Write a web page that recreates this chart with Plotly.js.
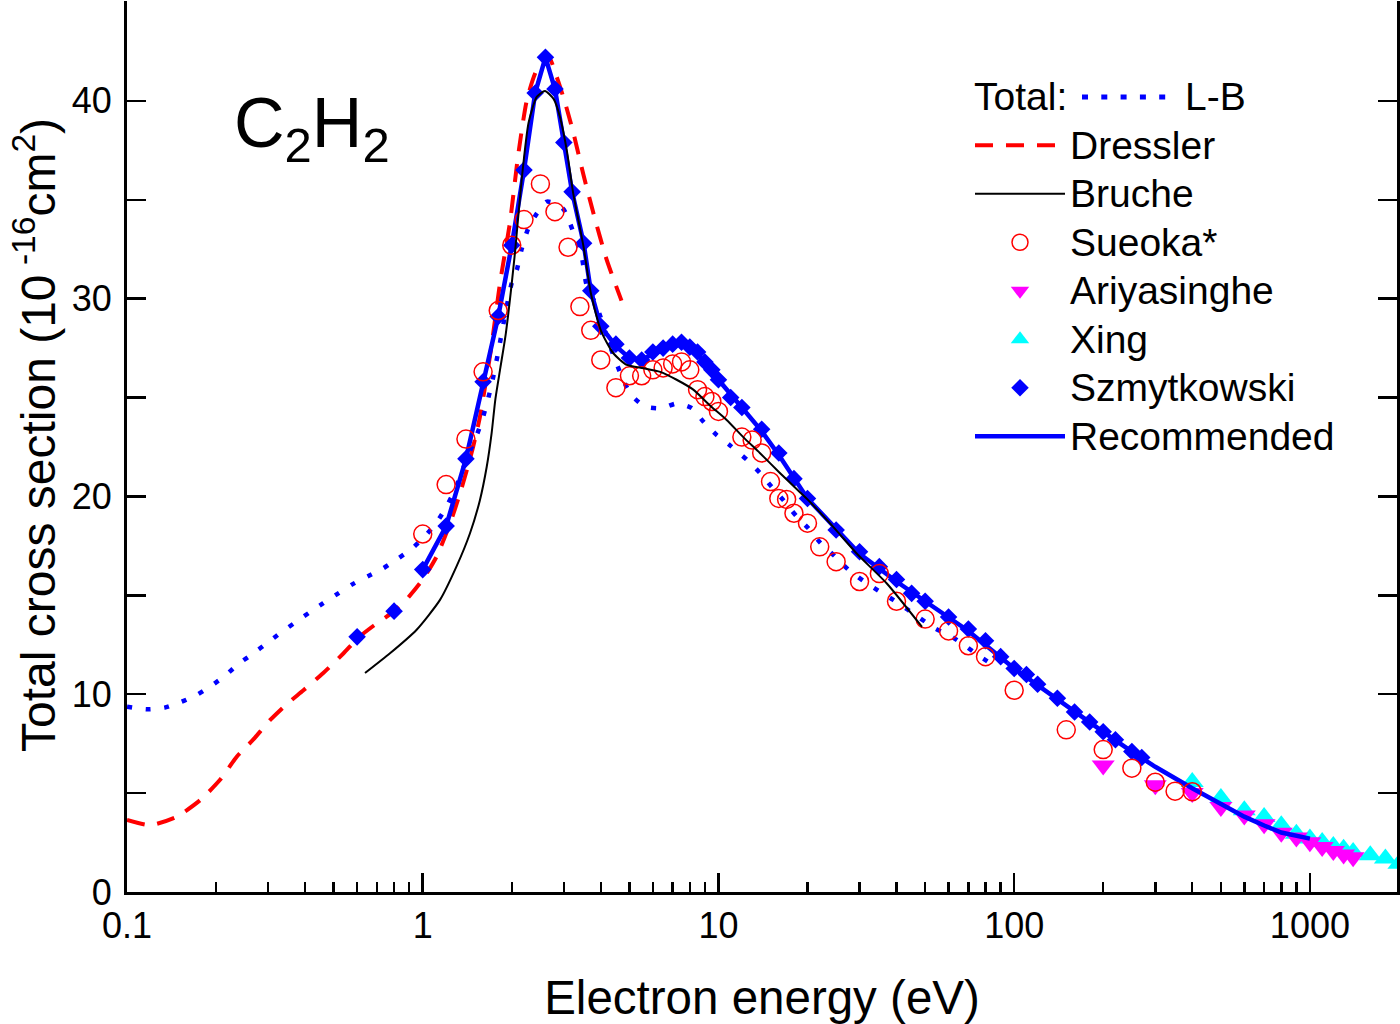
<!DOCTYPE html>
<html>
<head>
<meta charset="utf-8">
<script src="https://cdn.plot.ly/plotly-3.0.1.min.js"></script>
<style>
  html, body { margin: 0; padding: 0; background: #fff; }
  #chart { width: 1400px; height: 1024px; }
</style>
</head>
<body>
<div id="chart"></div>
<script>
// Electron scattering total cross sections for acetylene (C2H2)
// Energies in eV, cross sections in 10^-16 cm^2

// L-B (theory, dotted)
const lbEnergy = [0.1, 0.1165, 0.134, 0.153, 0.172, 0.193, 0.216, 0.238, 0.266, 0.297, 0.331, 0.37, 0.413, 0.461, 0.518, 0.582, 0.655, 0.736, 0.817, 0.917, 1.01, 1.114, 1.199, 1.285, 1.426, 1.514, 1.595, 1.7, 1.8, 1.9, 2.0, 2.08, 2.16, 2.28, 2.43, 2.62, 2.84, 3.0, 3.15, 3.45, 3.58, 3.88, 4.3, 4.76, 5.09, 5.65, 6.43, 7.22, 8.13, 8.9, 9.87, 10.9, 12.5, 13.8, 15.1, 16.6, 18.4, 20.1, 22.1, 24.8, 27.5, 30.9, 34.7, 39, 43.8, 48.1, 54, 61.5, 69, 76.7, 85];
const lbSigma = [9.37, 9.24, 9.32, 9.62, 9.96, 10.43, 10.97, 11.53, 12.04, 12.58, 13.11, 13.62, 14.12, 14.6, 15.1, 15.58, 15.98, 16.37, 16.82, 17.34, 17.94, 18.68, 19.45, 20.33, 22.1, 23.0, 23.95, 25.5, 27.3, 29.2, 30.8, 31.45, 32.5, 33.6, 34.3, 34.9, 34.8, 34.5, 33.8, 32.1, 30.7, 29.6, 27.6, 25.9, 25.1, 24.54, 24.46, 24.7, 24.46, 23.78, 23.1, 22.6, 21.85, 21.2, 20.5, 19.8, 18.98, 18.4, 17.66, 16.96, 16.3, 15.73, 15.24, 14.77, 14.26, 13.84, 13.33, 12.91, 12.4, 11.9, 11.48];

// Dressler (dashed)
const dresslerEnergy = [0.1, 0.12, 0.147, 0.177, 0.206, 0.235, 0.267, 0.305, 0.347, 0.395, 0.46, 0.54, 0.61, 0.68, 0.8, 0.9, 1.0, 1.114, 1.237, 1.337, 1.41, 1.48, 1.56, 1.7, 1.83, 1.97, 2.1, 2.25, 2.43, 2.66, 2.84, 3.03, 3.23, 3.49, 3.78, 4.19, 4.7];
const dresslerSigma = [3.64, 3.38, 3.8, 4.65, 5.66, 6.84, 7.7, 8.7, 9.5, 10.2, 11.06, 12.07, 12.9, 13.45, 14.2, 14.95, 15.8, 16.96, 18.64, 20.16, 21.34, 22.5, 24.0, 27.4, 30.9, 33.8, 37.2, 40.05, 41.57, 42.24, 41.2, 39.9, 38.4, 36.3, 34.3, 31.96, 29.9];

// Bruche (thin solid)
const brucheEnergy = [0.638, 0.775, 0.952, 1.144, 1.3, 1.445, 1.56, 1.646, 1.71, 1.76, 1.83, 1.91, 2.05, 2.16, 2.28, 2.43, 2.59, 2.77, 2.91, 3.07, 3.23, 3.5, 3.7, 4.0, 4.41, 4.9, 5.58, 6.35, 7.22, 8.22, 9.36, 10.66, 12.13, 13.8, 16.1, 18.9, 20, 25, 29.4, 37.1, 48.8];
const brucheSigma = [11.07, 12.07, 13.25, 14.77, 16.45, 18.14, 19.8, 21.5, 23.2, 24.9, 26.5, 28.25, 32.3, 36.0, 38.9, 40.2, 40.5, 40.1, 39.2, 37.5, 35.3, 32.6, 30.3, 28.4, 27.24, 26.65, 26.48, 26.3, 25.9, 25.4, 24.6, 23.87, 23.0, 22.2, 21.2, 20.2, 19.85, 18.3, 17.1, 15.6, 13.4];

// Sueoka* (open circles)
const sueokaEnergy = [1.0, 1.2, 1.4, 1.6, 1.8, 2.0, 2.2, 2.5, 2.8, 3.1, 3.4, 3.7, 4.0, 4.5, 5.0, 5.5, 6.0, 6.5, 7.0, 7.5, 8.0, 8.5, 9.0, 9.5, 10, 12, 13, 14, 15, 16, 17, 18, 20, 22, 25, 30, 35, 40, 50, 60, 70, 80, 100, 150, 200, 250, 300, 350, 400];
const sueokaSigma = [18.1, 20.6, 22.9, 26.3, 29.4, 32.7, 34.0, 35.8, 34.4, 32.6, 29.6, 28.4, 26.9, 25.5, 26.1, 26.1, 26.4, 26.5, 26.7, 26.8, 26.4, 25.4, 25.05, 24.8, 24.3, 23.0, 22.85, 22.2, 20.75, 19.9, 19.85, 19.15, 18.65, 17.45, 16.7, 15.7, 16.1, 14.7, 13.8, 13.2, 12.45, 11.9, 10.2, 8.2, 7.2, 6.26, 5.55, 5.1, 5.07];

// Ariyasinghe (down triangles)
const ariyEnergy = [200, 300, 400, 500, 600, 700, 800, 900, 1000, 1100, 1200, 1300, 1400];
const ariySigma = [6.4, 5.4, 5.0, 4.3, 3.87, 3.42, 3.0, 2.75, 2.52, 2.27, 2.07, 1.9, 1.76];

// Xing (up triangles)
const xingEnergy = [400, 500, 600, 700, 800, 900, 1000, 1100, 1200, 1300, 1400, 1600, 1800, 2000];
const xingSigma = [5.56, 4.75, 4.13, 3.79, 3.37, 2.95, 2.7, 2.53, 2.33, 2.19, 2.02, 1.86, 1.69, 1.43];

// Szmytkowski (diamonds)
const szmEnergy = [0.6, 0.8, 1.0, 1.2, 1.4, 1.6, 1.8, 2.0, 2.2, 2.4, 2.6, 2.8, 3.0, 3.2, 3.5, 3.7, 4.0, 4.5, 5.0, 5.5, 6.0, 6.5, 7.0, 7.5, 8.0, 8.5, 9.0, 9.5, 10, 11, 12, 14, 16, 18, 20, 25, 30, 35, 40, 45, 50, 60, 70, 80, 90, 100, 110, 120, 140, 160, 180, 200, 220, 250, 270];
const szmSigma = [12.9, 14.2, 16.3, 18.5, 21.9, 25.8, 29.1, 32.7, 36.5, 40.4, 42.2, 40.6, 37.9, 35.4, 32.8, 30.4, 28.6, 27.7, 27.0, 26.9, 27.3, 27.5, 27.7, 27.8, 27.55, 27.3, 26.8, 26.4, 25.9, 25.0, 24.5, 23.4, 22.2, 20.9, 19.9, 18.3, 17.2, 16.45, 15.8, 15.1, 14.7, 13.9, 13.3, 12.7, 11.9, 11.3, 11.0, 10.5, 9.8, 9.1, 8.6, 8.1, 7.7, 7.1, 6.8];

// Recommended (thick solid)
const recEnergy = [1.0, 1.2, 1.4, 1.6, 1.8, 2.0, 2.2, 2.4, 2.6, 2.8, 3.0, 3.2, 3.5, 3.7, 4.0, 4.5, 5.0, 5.5, 6.0, 7.0, 7.5, 8.0, 9.0, 10, 12, 14, 16, 20, 30, 40, 50, 70, 100, 150, 200, 250, 300, 400, 500, 600, 700, 800, 1000];
const recSigma = [16.3, 18.5, 21.9, 25.8, 29.1, 32.7, 36.5, 40.4, 42.2, 40.6, 37.9, 35.4, 32.8, 30.4, 28.6, 27.6, 27.0, 26.9, 27.2, 27.6, 27.7, 27.5, 26.8, 25.9, 24.5, 23.3, 22.1, 19.9, 17.1, 15.7, 14.7, 13.2, 11.3, 9.4, 8.1, 7.1, 6.33, 5.25, 4.45, 3.81, 3.36, 3.01, 2.7];

// Axis ticks
const xTickVals = [0.1, 1, 10, 100, 1000];
const xTickText = ['0.1', '1', '10', '100', '1000'];
const yTickVals = [0, 10, 20, 30, 40];
const yMinorVals = [5, 15, 25, 35];

// Legend labels
const legendNames = ['Dressler', 'Bruche', 'Sueoka*', 'Ariyasinghe', 'Xing', 'Szmytkowski', 'Recommended'];

const xMinorVals = [];
[0.1, 1, 10, 100].forEach(function (d) {
  for (let k = 2; k <= 9; k++) xMinorVals.push(k * d);
});

const FONT = 'Liberation Sans, Arial, Helvetica, sans-serif';
const label = function (s) { return '<span style="font-size:39px">' + s + '</span>'; };

const traces = [
  { x: dresslerEnergy, y: dresslerSigma, mode: 'lines', name: label(legendNames[0]), legendrank: 1,
    line: { color: '#ff0000', width: 4, dash: '18px,13px', shape: 'spline', smoothing: 0.6 } },
  { x: lbEnergy, y: lbSigma, mode: 'lines', name: 'L-B', showlegend: false,
    line: { color: '#0000ff', width: 4.5, dash: '5px,13.7px', shape: 'spline', smoothing: 0.6 } },
  { x: xingEnergy, y: xingSigma, mode: 'markers', name: label(legendNames[4]), legendrank: 5,
    marker: { symbol: 'triangle-up', size: 20, color: '#00ffff' } },
  { x: ariyEnergy, y: ariySigma, mode: 'markers', name: label(legendNames[3]), legendrank: 4,
    marker: { symbol: 'triangle-down', size: 20, color: '#ff00ff' } },
  { x: recEnergy, y: recSigma, mode: 'lines', name: label(legendNames[6]), legendrank: 7,
    line: { color: '#0000ff', width: 4.5 } },
  { x: szmEnergy, y: szmSigma, mode: 'markers', name: label(legendNames[5]), legendrank: 6,
    marker: { symbol: 'diamond', size: 13.5, color: '#0000ff' } },
  { x: sueokaEnergy, y: sueokaSigma, mode: 'markers', name: label(legendNames[2]), legendrank: 3,
    marker: { symbol: 'circle-open', size: 18, color: '#ff0000', line: { width: 1.5, color: '#ff0000' } } },
  { x: brucheEnergy, y: brucheSigma, mode: 'lines', name: label(legendNames[1]), legendrank: 2,
    line: { color: '#000000', width: 2, shape: 'spline', smoothing: 0.6 } }
];

// paper coordinates from pixel positions inside the plot frame
const L = 127, R = 3, T = 1, B = 132;
const W = 1400 - L - R, H = 1024 - T - B;
const px = function (x) { return (x - L) / W; };
const py = function (y) { return (1024 - B - y) / H; };

const layout = {
  width: 1400, height: 1024,
  margin: { l: L, r: R, t: T, b: B, pad: 0 },
  paper_bgcolor: '#ffffff', plot_bgcolor: '#ffffff',
  font: { family: FONT, color: '#000000', size: 36 },
  showlegend: true,
  legend: {
    x: px(970), y: py(116), xanchor: 'left', yanchor: 'top',
    bgcolor: 'rgba(0,0,0,0)', borderwidth: 0,
    font: { family: FONT, size: 35, color: '#000000' },
    itemwidth: 90, traceorder: 'normal', itemsizing: 'trace'
  },
  xaxis: {
    type: 'log', range: [-1, 3.2945],
    showline: true, linewidth: 3, linecolor: '#000000', mirror: false,
    ticks: 'inside', ticklen: 19, tickwidth: 2.5, tickcolor: '#000000',
    tickmode: 'array', tickvals: xTickVals, ticktext: xTickText,
    tickfont: { family: FONT, size: 36, color: '#000000' },
    minor: { ticks: 'inside', ticklen: 10, tickwidth: 2.5, tickcolor: '#000000', tickmode: 'array', tickvals: xMinorVals },
    showgrid: false, zeroline: false,
    title: { text: 'Electron energy (eV)', font: { family: FONT, size: 47.5, color: '#000000' }, standoff: 38 }
  },
  yaxis: {
    range: [0, 45.05],
    showline: true, linewidth: 3, linecolor: '#000000', mirror: 'ticks',
    ticks: 'inside', ticklen: 19, tickwidth: 2.5, tickcolor: '#000000',
    tickmode: 'array', tickvals: yTickVals, ticklabelstandoff: 5,
    tickfont: { family: FONT, size: 36, color: '#000000' },
    minor: { ticks: 'inside', ticklen: 19, tickwidth: 2.5, tickcolor: '#000000', tickmode: 'array', tickvals: yMinorVals },
    showgrid: false, zeroline: false
  },
  shapes: [
    { type: 'line', xref: 'paper', yref: 'paper', x0: px(1082), x1: px(1166), y0: py(97), y1: py(97),
      line: { color: '#0000ff', width: 5, dash: '6px,13.3px' } }
  ],
  annotations: [
    { xref: 'paper', yref: 'paper', x: px(35), y: py(435), xanchor: 'center', yanchor: 'middle', textangle: -90,
      text: 'Total cross section (10<sup> -16</sup>cm<sup>2</sup>)', showarrow: false,
      font: { family: FONT, size: 48, color: '#000000' } },
    { xref: 'paper', yref: 'paper', x: px(972), y: py(97), xanchor: 'left', yanchor: 'middle',
      text: 'Total:', showarrow: false, font: { family: FONT, size: 39, color: '#000000' } },
    { xref: 'paper', yref: 'paper', x: px(1183), y: py(97), xanchor: 'left', yanchor: 'middle',
      text: 'L-B', showarrow: false, font: { family: FONT, size: 39, color: '#000000' } },
    { xref: 'paper', yref: 'paper', x: px(232), y: py(82), xanchor: 'left', yanchor: 'top',
      text: 'C<sub>2</sub>H<sub>2</sub>', showarrow: false, font: { family: FONT, size: 70, color: '#000000' } }
  ]
};

Plotly.newPlot('chart', traces, layout, { displayModeBar: false, staticPlot: true });
</script>
</body>
</html>
